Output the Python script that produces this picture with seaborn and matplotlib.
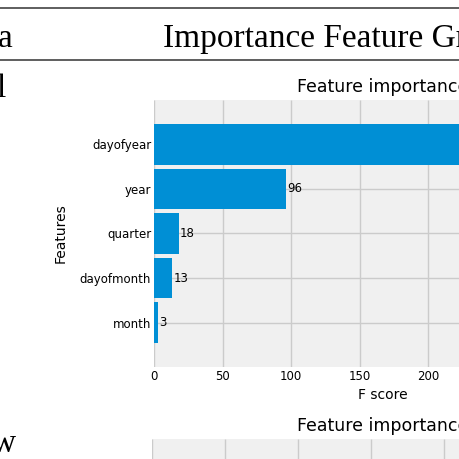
import matplotlib
matplotlib.use("Agg")
import matplotlib.pyplot as plt
import seaborn as sns
from matplotlib.lines import Line2D

# xgboost feature importance (F score)
features = ["dayofyear", "year", "quarter", "dayofmonth", "month"]
scores = [304, 96, 18, 13, 3]

# table text around the chart (cropped words)
header_left = "a"
header_right = "Importance Feature Gr"
row1_left = "l"
row2_left = "w"

W = H = 459.0


def fx(px):
    return px / W


def fy(py):
    return 1 - py / H


plt.style.use("fivethirtyeight")
sns.set_style({"axes.facecolor": "#f0f0f0", "grid.color": "#cbcbcb"})
plt.rcParams["font.family"] = ["DejaVu Sans"]
plt.rcParams["figure.facecolor"] = "white"
plt.rcParams["savefig.facecolor"] = "white"

fig = plt.figure(figsize=(4.59, 4.59), dpi=100)

# table rules and text
for y in (8, 60):
    fig.add_artist(Line2D([0, 1], [fy(y), fy(y)], transform=fig.transFigure,
                          color="#333333", lw=1.1))
serif = ["Liberation Serif", "DejaVu Serif"]
fig.text(fx(-2), fy(47), header_left, family=serif, fontsize=24, va="baseline")
fig.text(fx(163), fy(47), header_right, family=serif, fontsize=24, va="baseline")
fig.text(fx(-4), fy(97), row1_left, family=serif, fontsize=24, va="baseline")
fig.text(fx(-8), fy(452), row2_left, family=serif, fontsize=24, va="baseline")

# first importance plot
xmax = max(scores) * 1.1
px_per_unit = 68.5 / 50
left, top, bottom = 154, 100, 367
ax = fig.add_axes([fx(left), fy(bottom), xmax * px_per_unit / W, (bottom - top) / H])
sns.barplot(x=scores, y=features, orient="h", width=0.9, color="#008fd5",
            saturation=1, ax=ax)
for i, v in enumerate(scores):
    ax.text(v + 1, i, str(v), va="center", fontsize=8.5)
ax.set_xlim(0, xmax)
ax.set_ylim(5, -1)
ax.grid(True, axis="both", color="#cbcbcb", lw=1)
ax.set_axisbelow(True)
ax.set_title("Feature importance", fontsize=12.5, pad=6)
ax.set_xlabel("F score", fontsize=10, labelpad=4)
ax.set_ylabel("Features", fontsize=10, labelpad=9)
ax.tick_params(axis="both", labelsize=8.5, length=0, pad=2)
for s in ax.spines.values():
    s.set_visible(False)

# second importance plot (only its top edge is visible)
xmax2 = 316
px2 = 73 / 50
ax2 = fig.add_axes([fx(152), fy(700), xmax2 * px2 / W, (700 - 439) / H])
ax2.set_xlim(0, xmax2)
ax2.set_xticks([0, 50, 100, 150, 200, 250, 300])
ax2.set_yticks([])
ax2.grid(True, axis="x", color="#cbcbcb", lw=1)
ax2.set_title("Feature importance", fontsize=12.5, pad=6)
for s in ax2.spines.values():
    s.set_visible(False)

fig.savefig("out.png", dpi=100)
